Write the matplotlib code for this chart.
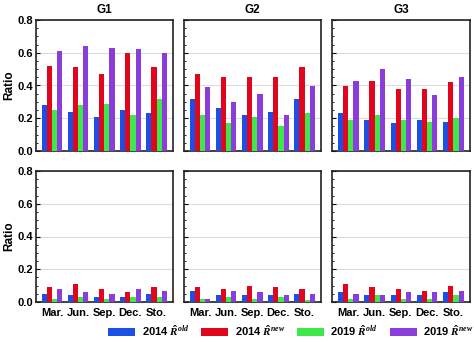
import numpy as np
import matplotlib
matplotlib.use("Agg")
import matplotlib.pyplot as plt
from matplotlib.ticker import MultipleLocator

plt.rcParams['font.family'] = ['Liberation Sans', 'DejaVu Sans']
plt.rcParams['font.weight'] = 'bold'
plt.rcParams['mathtext.fontset'] = 'custom'
plt.rcParams['mathtext.rm'] = 'Liberation Sans:bold'
plt.rcParams['mathtext.it'] = 'Liberation Serif:italic:bold'

months = ["Mar.", "Jun.", "Sep.", "Dec.", "Sto."]
groups = ["G1", "G2", "G3"]
series = ["2014 $\\hat{R}^{old}$", "2014 $\\hat{R}^{new}$",
          "2019 $\\hat{R}^{old}$", "2019 $\\hat{R}^{new}$"]
colors = ["#1c4fe6", "#e2061c", "#3ee84a", "#8a3ddb"]

# top row: [group][series][month]
top_g1 = [[0.28, 0.24, 0.21, 0.25, 0.23],
          [0.52, 0.51, 0.47, 0.60, 0.51],
          [0.25, 0.28, 0.29, 0.22, 0.32],
          [0.61, 0.64, 0.63, 0.62, 0.60]]
top_g2 = [[0.32, 0.26, 0.22, 0.24, 0.32],
          [0.47, 0.45, 0.45, 0.45, 0.51],
          [0.22, 0.17, 0.21, 0.15, 0.23],
          [0.39, 0.30, 0.35, 0.22, 0.40]]
top_g3 = [[0.23, 0.19, 0.17, 0.19, 0.18],
          [0.40, 0.43, 0.38, 0.38, 0.42],
          [0.19, 0.22, 0.19, 0.18, 0.20],
          [0.43, 0.50, 0.44, 0.34, 0.45]]
# bottom row
bot_g1 = [[0.05, 0.04, 0.03, 0.03, 0.05],
          [0.09, 0.11, 0.08, 0.06, 0.09],
          [0.02, 0.03, 0.02, 0.03, 0.03],
          [0.08, 0.06, 0.05, 0.08, 0.07]]
bot_g2 = [[0.07, 0.04, 0.04, 0.04, 0.05],
          [0.09, 0.08, 0.10, 0.09, 0.08],
          [0.02, 0.03, 0.02, 0.03, 0.01],
          [0.02, 0.07, 0.06, 0.04, 0.05]]
bot_g3 = [[0.06, 0.04, 0.04, 0.04, 0.06],
          [0.11, 0.09, 0.08, 0.07, 0.10],
          [0.02, 0.04, 0.02, 0.02, 0.04],
          [0.05, 0.04, 0.06, 0.06, 0.07]]

rows = [[top_g1, top_g2, top_g3], [bot_g1, bot_g2, bot_g3]]

W, H = 474, 342
fig = plt.figure(figsize=(W / 100, H / 100), dpi=100)

lefts = [36, 184, 332]
widths = [137, 137, 138]
tops = [20, 171]
ph = 131

x = np.arange(len(months))
bw = 0.195
handles = []
for r in range(2):
    for c in range(3):
        ax = fig.add_axes([lefts[c] / W, 1 - (tops[r] + ph) / H, widths[c] / W, ph / H])
        data = rows[r][c]
        for s in range(4):
            b = ax.bar(x + (s - 1.5) * bw, data[s], bw, color=colors[s], zorder=3)
            if r == 0 and c == 0:
                handles.append(b)
        ax.set_xlim(-0.62, 4.63)
        ax.set_ylim(0, 0.8)
        ax.yaxis.set_major_locator(MultipleLocator(0.2))
        ax.yaxis.set_minor_locator(MultipleLocator(0.05))
        ax.grid(axis='y', color='#dddddd', linewidth=0.8, zorder=0)
        ax.tick_params(axis='y', which='major', direction='in', length=3, width=0.8,
                       labelsize=8, pad=2)
        ax.tick_params(axis='y', which='minor', direction='in', length=1.5, width=0.6)
        ax.tick_params(axis='x', length=0, labelsize=8, pad=4)
        ax.set_xticks(x)
        if r == 1:
            ax.set_xticklabels(months, fontweight='bold')
        else:
            ax.set_xticklabels([])
            ax.set_title(groups[c], fontsize=8.5, fontweight='bold', pad=5)
        if c == 0:
            ax.set_ylabel("Ratio", fontsize=8.5, fontweight='bold', labelpad=2)
            ax.set_yticklabels(["%.1f" % v for v in ax.get_yticks()], fontweight='bold')
        else:
            ax.set_yticklabels([])
        for sp in ax.spines.values():
            sp.set_linewidth(1.2)
            sp.set_color('#222222')

fig.legend(handles, series, loc='center', bbox_to_anchor=(291 / W, 1 - 331 / H),
           ncol=4, frameon=False, fontsize=8, handlelength=2.4, handleheight=0.7,
           columnspacing=1.1, handletextpad=0.6)

fig.savefig("out.png", dpi=100)
